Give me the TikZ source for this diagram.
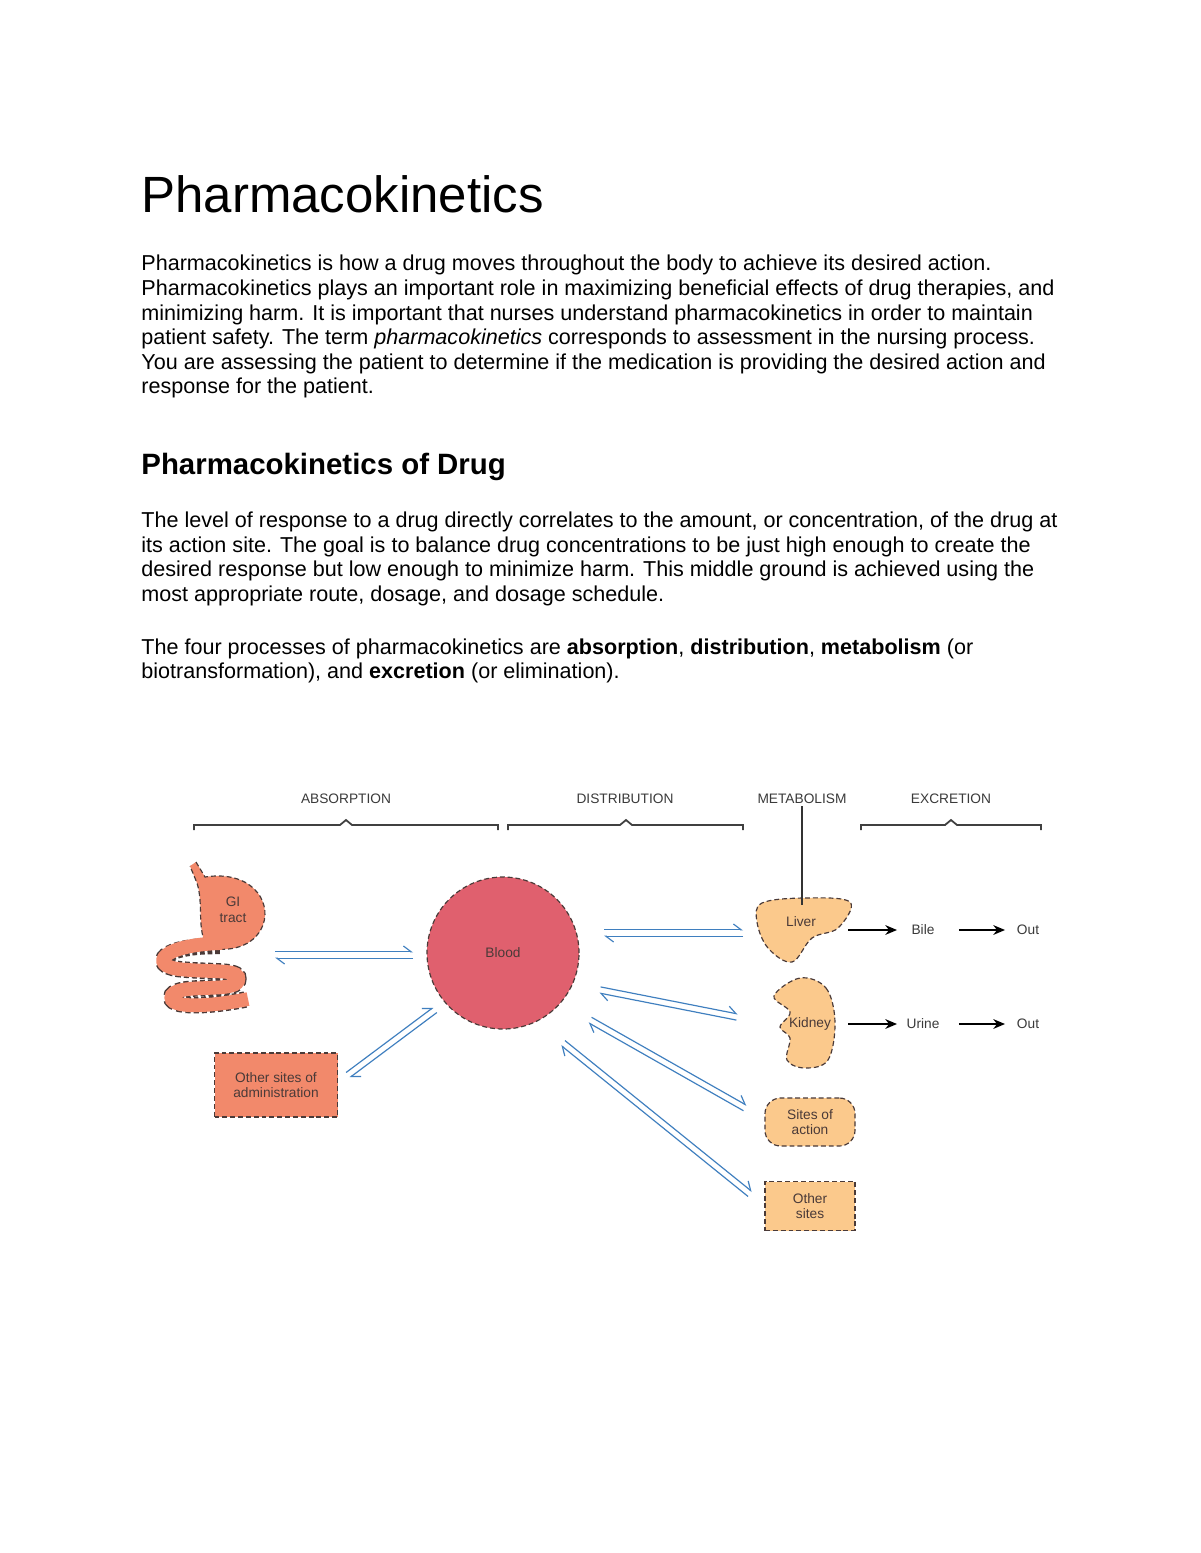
\documentclass[tikz,border=0pt]{standalone}
\usepackage{fontspec}
\setmainfont{Liberation Sans}
\usetikzlibrary{arrows.meta,calc}
\definecolor{salm}{HTML}{F2896B}
\definecolor{bloodc}{HTML}{E0606E}
\definecolor{orangec}{HTML}{FBC98C}
\definecolor{bluec}{HTML}{3F7FBF}
\definecolor{dk}{HTML}{4A3A38}
\definecolor{lab}{HTML}{3A3A3A}
\tikzset{
 body/.style={anchor=base west,inner sep=0pt,font=\fontsize{11}{13}\selectfont},
 lbl/.style={font=\fontsize{7}{8}\selectfont,text=lab,inner sep=1pt},
 organ/.style={draw=dk,dashed,line width=0.6pt,dash pattern=on 2.5pt off 1.5pt},
 brace/.style={line width=0.9pt,draw=black!75},
 eqline/.style={draw=bluec,line width=0.6pt,-{Straight Barb[left,length=4pt,width=6pt]}},
 blk/.style={line width=0.7pt,-{Stealth[length=6pt,width=5pt]}},
}
\newcommand{\eqarr}[2]{%
 \draw[eqline] ($(#1)!1.6pt!90:(#2)$) -- ($(#2)!1.6pt!-90:(#1)$);
 \draw[eqline] ($(#2)!1.6pt!90:(#1)$) -- ($(#1)!1.6pt!-90:(#2)$);}
\begin{document}
\begin{tikzpicture}[x=0.51pt,y=-0.51pt]
\useasboundingbox[fill=white] (0,0) rectangle (1200,1553);
% text
\node[body,font=\fontsize{26}{30}\selectfont] (title) at (141,213) {Pharmacokinetics};
\node[body] (p1) at (141,270) {Pharmacokinetics is how a drug moves throughout the body to achieve its desired action.};
\node[body] (p2) at (141,295) {Pharmacokinetics plays an important role in maximizing beneficial effects of drug therapies, and};
\node[body] (p3) at (141,320) {minimizing harm. It is important that nurses understand pharmacokinetics in order to maintain};
\node[body] (p4) at (141,344) {patient safety. The term \textit{pharmacokinetics} corresponds to assessment in the nursing process.};
\node[body] (p5) at (141,369) {You are assessing the patient to determine if the medication is providing the desired action and};
\node[body] (p6) at (141,393) {response for the patient.};
\node[body,font=\fontsize{15}{18}\selectfont\bfseries] (h2) at (141,474) {Pharmacokinetics of Drug};
\node[body] (q1) at (141,527) {The level of response to a drug directly correlates to the amount, or concentration, of the drug at};
\node[body] (q2) at (141,552) {its action site. The goal is to balance drug concentrations to be just high enough to create the};
\node[body] (q3) at (141,576) {desired response but low enough to minimize harm. This middle ground is achieved using the};
\node[body] (q4) at (141,601) {most appropriate route, dosage, and dosage schedule.};
\node[body] (r1) at (141,654) {The four processes of pharmacokinetics are \textbf{absorption}, \textbf{distribution}, \textbf{metabolism} (or};
\node[body] (r2) at (141,678) {biotransformation), and \textbf{excretion} (or elimination).};
% headers
\node[lbl] (abs) at (346,799) {ABSORPTION};
\node[lbl] (dis) at (625,799) {DISTRIBUTION};
\node[lbl] (met) at (802,799) {METABOLISM};
\node[lbl] (exc) at (951,799) {EXCRETION};
\draw[brace] (194,830) -- (194,825) -- (340,825) -- (346,820) -- (352,825) -- (498,825) -- (498,830);
\draw[brace] (508,830) -- (508,825) -- (620,825) -- (626,820) -- (632,825) -- (743,825) -- (743,830);
\draw[brace] (861,830) -- (861,825) -- (945,825) -- (951,820) -- (957,825) -- (1041,825) -- (1041,830);
% GI tract
\draw[dk,line width=8.4pt,dash pattern=on 2.5pt off 1.5pt] (220,946) .. controls (160,945) and (150,965) .. (178,969) .. controls (215,973) and (242,968) .. (238,981) .. controls (234,993) and (180,983) .. (172,995) .. controls (165,1010) and (215,1006) .. (248,999);
\filldraw[organ,fill=salm] (196,862) -- (205,877) .. controls (250,870) and (272,900) .. (263,925) .. controls (254,948) and (228,952) .. (208,948) .. controls (196,930) and (204,905) .. (197,883) -- (190,866);
\draw[salm,line width=7pt] (222,943) .. controls (160,945) and (150,965) .. (178,969) .. controls (215,973) and (242,968) .. (238,981) .. controls (234,993) and (180,983) .. (172,995) .. controls (165,1010) and (215,1006) .. (248,999);
\node[lbl,align=center,text=dk] (gi) at (233,910) {GI\\tract};
% other admin
\node[organ,fill=salm,minimum width=123*0.51pt,minimum height=64*0.51pt,align=center,lbl,text=dk] (adm) at (276,1085) {Other sites of\\administration};
% blood
\node[organ,circle,fill=bloodc,minimum size=152*0.51pt,lbl,text=dk] (blood) at (503,953) {Blood};
% liver
\filldraw[organ,fill=orangec] plot[smooth cycle,tension=0.6] coordinates {(762,903) (805,898) (850,902) (838,928) (812,938) (792,962) (768,948) (757,922)};
\node[lbl,text=dk] (liver) at (801,922) {Liver};
% kidney
\filldraw[organ,fill=orangec] plot[smooth cycle,tension=0.6] coordinates {(800,978) (826,988) (835,1022) (828,1060) (805,1068) (787,1060) (790,1038) (780,1027) (790,1012) (774,996)};
\node[lbl,text=dk] (kidney) at (810,1024) {Kidney};
\node[organ,fill=orangec,rounded corners=8pt,minimum width=90*0.51pt,minimum height=48*0.51pt,align=center,lbl,text=dk] (soa) at (810,1122) {Sites of\\action};
\node[organ,fill=orangec,minimum width=90*0.51pt,minimum height=49*0.51pt,align=center,lbl,text=dk] (oth) at (810,1206) {Other\\sites};
\draw[black!80,line width=0.6pt] (met.south) -- (802,905);
% excretion
\node[lbl] (bile) at (923,930) {Bile};
\node[lbl] (out1) at (1028,930) {Out};
\node[lbl] (urine) at (923,1024) {Urine};
\node[lbl] (out2) at (1028,1024) {Out};
\coordinate (le) at (848,930);
\coordinate (ke) at (848,1024);
\draw[blk] (le) -- (897,930);
\draw[blk] (bile.east) ++(22,0) -- (1005,930);
\draw[blk] (ke) -- (897,1024);
\draw[blk] (urine.east) ++(17,0) -- (1005,1024);
% equilibrium arrows
\coordinate (g1) at (275,955); \coordinate (b1) at (413,955);
\coordinate (b2) at (604,933); \coordinate (l2) at (743,933);
\coordinate (b3) at (600,990); \coordinate (k3) at (737,1017);
\coordinate (b4) at (590,1020); \coordinate (s4) at (745,1108);
\coordinate (b5) at (563,1043); \coordinate (o5) at (750,1194);
\coordinate (a6) at (348,1075); \coordinate (b6) at (435,1010);
\eqarr{g1}{b1}
\eqarr{b2}{l2}
\eqarr{b3}{k3}
\eqarr{b4}{s4}
\eqarr{b5}{o5}
\eqarr{a6}{b6}
\end{tikzpicture}
\end{document}
